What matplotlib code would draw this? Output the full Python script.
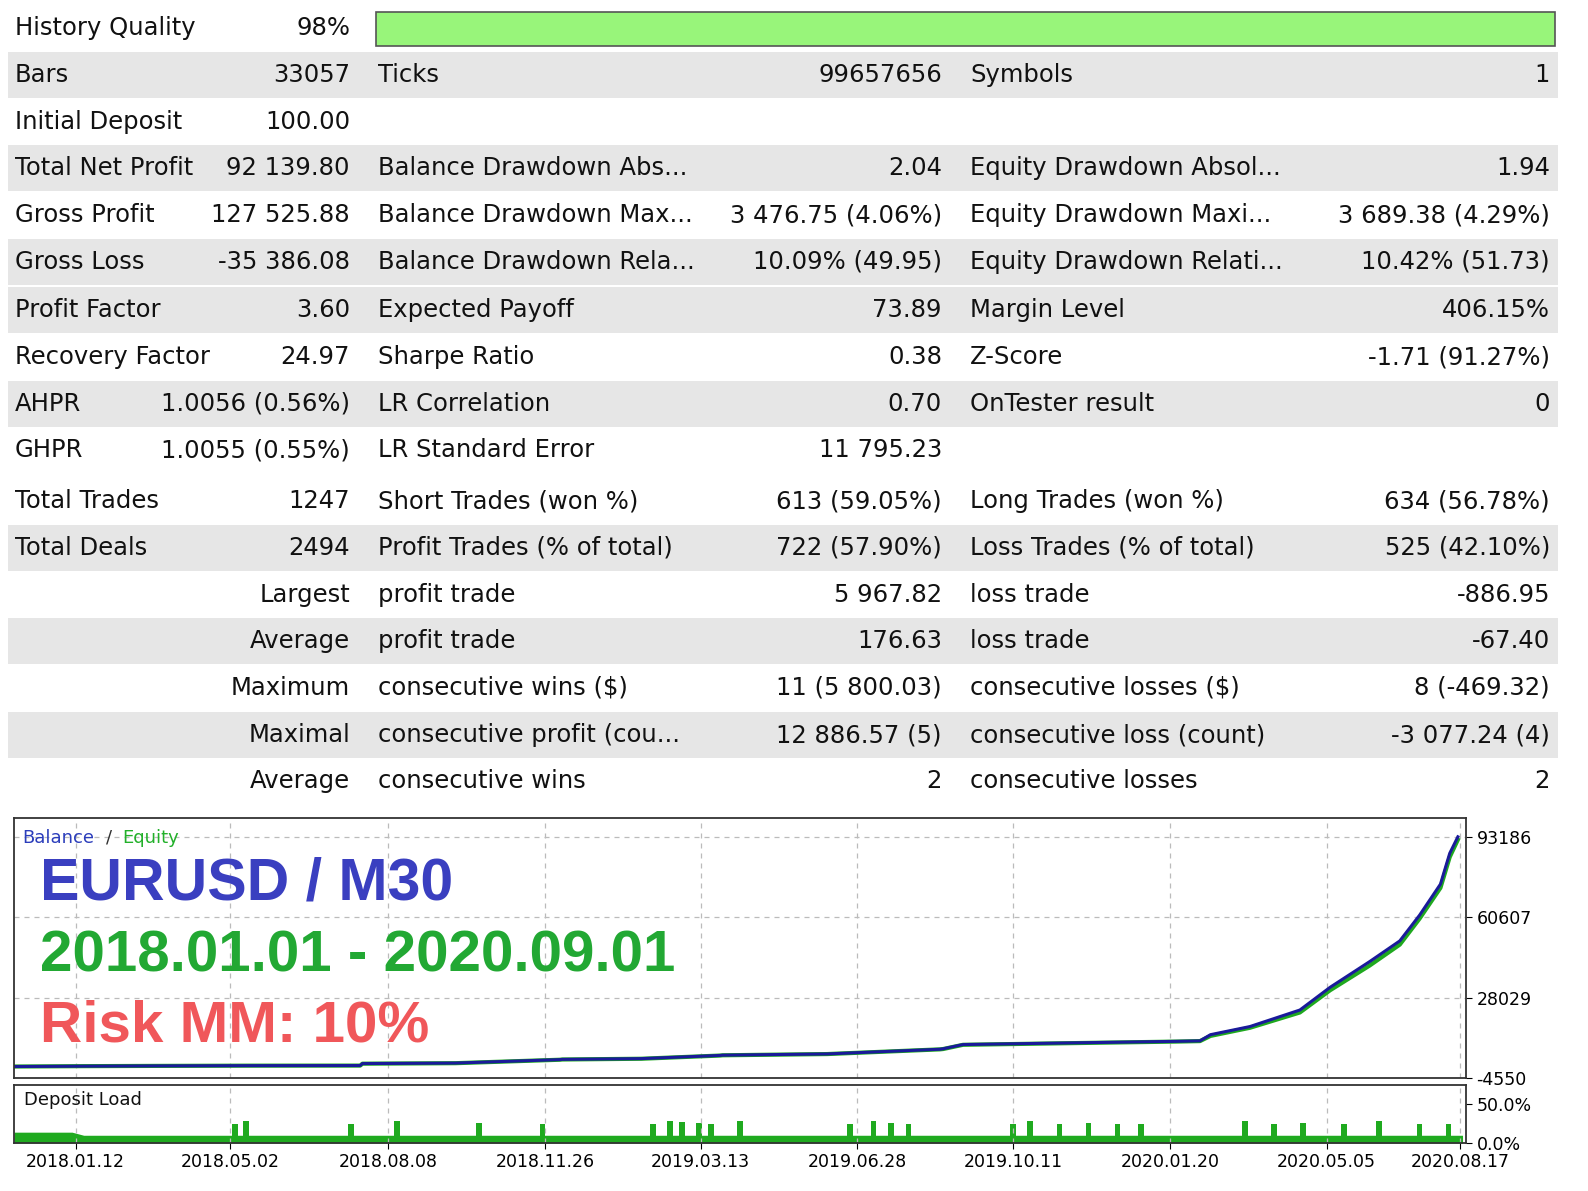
import matplotlib
matplotlib.use("Agg")
import matplotlib.pyplot as plt
from matplotlib.patches import Rectangle
plt.rcParams['axes.unicode_minus'] = False

W, H = 1588, 1191
rows_c1 = ["History Quality","Bars","Initial Deposit","Total Net Profit","Gross Profit","Gross Loss",
           "Profit Factor","Recovery Factor","AHPR","GHPR","Total Trades","Total Deals",
           "Largest","Average","Maximum","Maximal","Average"]
vals_c1 = ["98%","33057","100.00","92 139.80","127 525.88","-35 386.08","3.60","24.97",
           "1.0056 (0.56%)","1.0055 (0.55%)","1247","2494","","","","",""]
rows_c2 = ["","Ticks","","Balance Drawdown Abs...","Balance Drawdown Max...","Balance Drawdown Rela...",
           "Expected Payoff","Sharpe Ratio","LR Correlation","LR Standard Error","Short Trades (won %)",
           "Profit Trades (% of total)","profit trade","profit trade","consecutive wins ($)",
           "consecutive profit (cou...","consecutive wins"]
vals_c2 = ["","99657656","","2.04","3 476.75 (4.06%)","10.09% (49.95)","73.89","0.38","0.70",
           "11 795.23","613 (59.05%)","722 (57.90%)","5 967.82","176.63","11 (5 800.03)","12 886.57 (5)","2"]
rows_c3 = ["","Symbols","","Equity Drawdown Absol...","Equity Drawdown Maxi...","Equity Drawdown Relati...",
           "Margin Level","Z-Score","OnTester result","","Long Trades (won %)","Loss Trades (% of total)",
           "loss trade","loss trade","consecutive losses ($)","consecutive loss (count)","consecutive losses"]
vals_c3 = ["","1","","1.94","3 689.38 (4.29%)","10.42% (51.73)","406.15%","-1.71 (91.27%)","0",
           "","634 (56.78%)","525 (42.10%)","-886.95","-67.40","8 (-469.32)","-3 077.24 (4)","2"]
row_y = [28,75,122,168,215,262,310,357,404,450,501,548,595,641,688,735,781]
gray_rows = [1,3,5,6,8,11,13,15]

bal_x = [0,60,120,200,298,300,380,470,472,540,608,610,700,797,800,815,817,900,1000,1021,1030,1064,1107,1133,1167,1193,1210,1228,1236,1243]
bal_y = [100,250,350,450,500,1300,1500,2900,3000,3300,4600,4700,5200,7100,7300,8800,9000,9600,10300,10500,13000,16300,23000,32200,42600,51000,61400,74000,86500,93186]
eq_y  = [100,250,350,450,480,1250,1450,2850,2950,3250,4550,4650,5150,7050,7200,8700,8900,9500,10200,10400,12500,15800,22000,31000,41000,49500,60000,72500,85000,92000]
yticks = [-4550, 28029, 60607, 93186]
date_labels = ["2018.01.12","2018.05.02","2018.08.08","2018.11.26","2019.03.13","2019.06.28",
               "2019.10.11","2020.01.20","2020.05.05","2020.08.17"]
date_pos = [53,186,322,457,591,726,860,995,1130,1245]
spike_x = [190,200,290,330,400,455,550,565,575,590,600,625,720,740,755,770,860,875,900,925,950,970,1060,1085,1110,1145,1175,1210,1235]
spike_y = [25,28,25,28,26,25,25,28,27,26,25,28,25,28,26,25,25,28,25,26,25,25,28,25,26,25,28,25,25]
base_x = [0,50,60,1247]
base_y = [14,14,10,10]

fig = plt.figure(figsize=(W/100, H/100), dpi=100)
fig.patch.set_facecolor("white")
def fx(px): return px / W
def fy(py): return 1 - py / H

for i in gray_rows:
    y = row_y[i]
    fig.patches.append(Rectangle((fx(8), fy(y+23)), fx(1558-8), 46/H, transform=fig.transFigure,
                                 facecolor="#e6e6e6", edgecolor="none", zorder=0))
fig.patches.append(Rectangle((fx(376), fy(46)), fx(1555-376), 34/H, transform=fig.transFigure,
                             facecolor="#98f57a", edgecolor="#555555", lw=1.2, zorder=1))
fs = 17.5
for i, y in enumerate(row_y):
    yy = fy(y)
    kw = dict(fontsize=fs, va="center", color="#111111", family="DejaVu Sans")
    if i >= 12:
        fig.text(fx(350), yy, rows_c1[i], ha="right", **kw)
    else:
        fig.text(fx(15), yy, rows_c1[i], ha="left", **kw)
        fig.text(fx(350), yy, vals_c1[i], ha="right", **kw)
    fig.text(fx(378), yy, rows_c2[i], ha="left", **kw)
    fig.text(fx(942), yy, vals_c2[i], ha="right", **kw)
    fig.text(fx(970), yy, rows_c3[i], ha="left", **kw)
    fig.text(fx(1550), yy, vals_c3[i], ha="right", **kw)

ax = fig.add_axes([fx(14), fy(1078), fx(1466-14), (1078-818)/H])
ax.plot(bal_x, eq_y, color="#1fa81f", lw=3)
ax.plot(bal_x, bal_y, color="#1a1a9a", lw=2.2)
ax.set_xlim(0, 1250)
ax.set_ylim(-4550, 100800)
ax.set_yticks(yticks)
ax.yaxis.tick_right()
ax.tick_params(axis="y", labelsize=12.5, length=4)
ax.set_xticks(date_pos)
ax.tick_params(axis="x", labelbottom=False, length=0)
ax.grid(True, color="#bbbbbb", ls=(0, (4, 4)), lw=0.9)
for s in ax.spines.values():
    s.set_color("#333333"); s.set_linewidth(1.3)
fig.text(fx(22), fy(838), "Balance", color="#2b3dbb", fontsize=13, va="center")
fig.text(fx(106), fy(838), "/", color="#333333", fontsize=13, va="center")
fig.text(fx(122), fy(838), "Equity", color="#22b02a", fontsize=13, va="center")
fig.text(fx(40), fy(884), "EURUSD / M30", fontsize=42.5, fontweight="bold", color="#3a3fc0",
         family="Liberation Sans", va="center")
fig.text(fx(40), fy(956), "2018.01.01 - 2020.09.01", fontsize=42, fontweight="bold", color="#22a833",
         family="Liberation Sans", va="center")
fig.text(fx(40), fy(1027), "Risk MM: 10%", fontsize=42, fontweight="bold", color="#f0575a",
         family="Liberation Sans", va="center")

ax2 = fig.add_axes([fx(14), fy(1143), fx(1466-14), (1143-1085)/H])
ax2.fill_between(base_x, 0, base_y, color="#1faa1f", lw=0)
ax2.bar(spike_x, spike_y, width=5, color="#1faa1f")
ax2.set_xlim(0, 1250)
ax2.set_ylim(0, 75)
ax2.set_yticks([0, 50])
ax2.set_yticklabels(["0.0%", "50.0%"])
ax2.yaxis.tick_right()
ax2.tick_params(axis="y", labelsize=12.5, length=4)
ax2.set_xticks(date_pos)
ax2.set_xticklabels(date_labels, fontsize=12.5)
ax2.tick_params(axis="x", length=4)
ax2.grid(True, axis="x", color="#bbbbbb", ls=(0, (4, 4)), lw=0.9)
for s in ax2.spines.values():
    s.set_color("#333333"); s.set_linewidth(1.3)
ax2.text(0.007, 0.9, "Deposit Load", transform=ax2.transAxes, fontsize=13, va="top", color="#111111")

fig.savefig("out.png", dpi=100)
